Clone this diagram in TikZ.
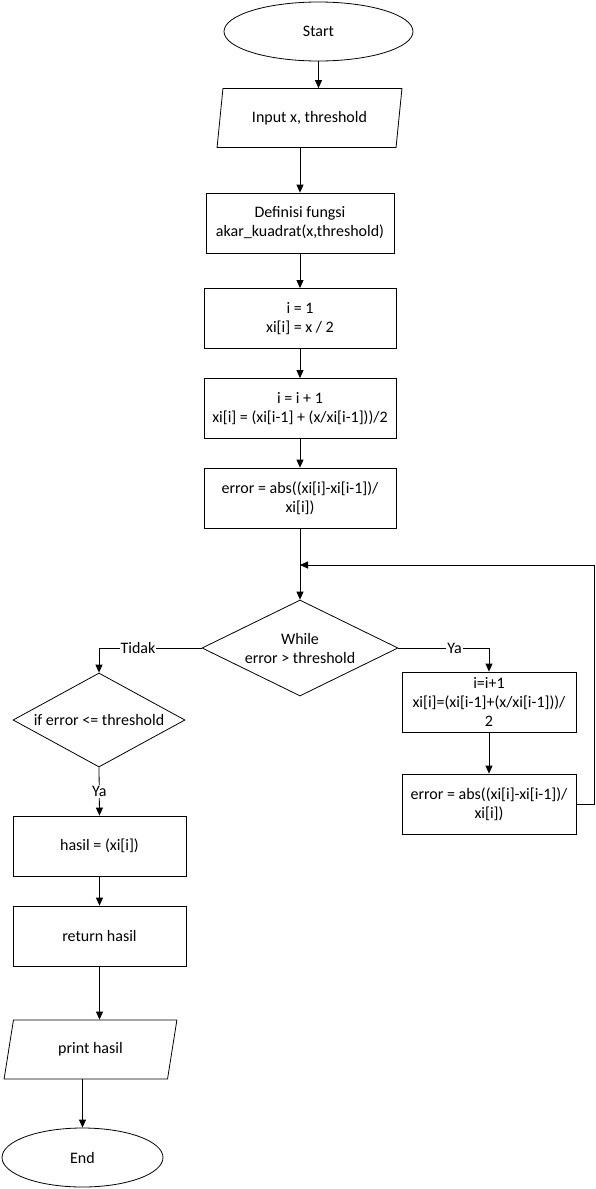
\documentclass[tikz,border=0pt]{standalone}
\usepackage{fontspec}
\setmainfont{Carlito}
\usetikzlibrary{shapes.geometric,arrows.meta}

\tikzset{
  base/.style={draw, line width=0.8pt, align=center, inner sep=0pt,
    font=\fontsize{16}{19}\selectfont},
  term/.style={base, ellipse, minimum width=189pt, minimum height=59pt},
  io/.style={base, trapezium, trapezium left angle=74, trapezium right angle=106,
    trapezium stretches=true, minimum height=59pt},
  proc/.style={base, rectangle, minimum height=60pt},
  cond/.style={base, diamond},
  arr/.style={line width=0.8pt, -{Triangle[length=8pt,width=7pt]}},
  lbl/.style={fill=white, inner sep=1pt, font=\fontsize{16}{19}\selectfont}
}

\begin{document}
\begin{tikzpicture}[x=1pt,y=-1pt]
  \useasboundingbox (0,0) rectangle (595,1189);

  %MAIN COLUMN
  \node[term] (start) at (318.5,31.5) {Start};
  \node[io, minimum width=185pt] (input) at (309.5,118) {Input x, threshold};
  \node[proc, minimum width=188pt] (def) at (300,223) {Definisi fungsi\\akar\_kuadrat(x,threshold)};
  \node[proc, minimum width=192pt] (init) at (300,318.5) {i = 1\\xi[i] = x / 2};
  \node[proc, minimum width=192pt] (iter) at (300,408.5) {i = i + 1\\xi[i] = (xi[i-1] + (x/xi[i-1]))/2};
  \node[proc, minimum width=192pt] (err) at (300,498) {error = abs((xi[i]-xi[i-1])/\\xi[i])};
  \node[cond, aspect=2.04, minimum width=196pt, minimum height=96pt] (while) at (300,648) {While\\error > threshold};
  \coordinate (join) at (300,565);

  %LOOP BODY
  \node[proc, minimum width=174pt] (upd) at (489,702) {i=i+1\\xi[i]=(xi[i-1]+(x/xi[i-1]))/\\2};
  \node[proc, minimum width=174pt] (err2) at (489,804) {error = abs((xi[i]-xi[i-1])/\\xi[i])};

  %EXIT BRANCH
  \node[cond, aspect=1.83, minimum width=172pt, minimum height=94pt] (cek) at (99,720) {if error <= threshold};
  \node[proc, minimum width=173pt] (hasil) at (99.5,846) {hasil = (xi[i])};
  \node[proc, minimum width=173pt] (ret) at (99.5,936) {return hasil};
  \node[io, minimum width=173pt] (print) at (90.5,1049.5) {print hasil};
  \node[term, minimum width=161pt] (end) at (82.5,1157.5) {End};

  %ARROWS
  \draw[arr] (start.south) -- (start.south |- input.north);
  \draw[arr] (def.north |- input.south) -- (def.north);
  \draw[arr] (def) -- (init);
  \draw[arr] (init) -- (iter);
  \draw[arr] (iter) -- (err);
  \draw[arr] (err.south) -- (while.north);
  \draw[arr] (while.east) -| (upd.north) node[pos=0.31, lbl] {Ya};
  \draw[arr] (upd) -- (err2);
  \draw[arr] (err2.east) -- ++(18,0) |- (join);
  \draw[arr] (while.west) -| (cek.north) node[pos=0.31, lbl] {Tidak};
  \draw[arr] (cek.south) -- (hasil.north) node[midway, lbl] {Ya};
  \draw[arr] (hasil) -- (ret);
  \draw[arr] (ret.south) -- (ret.south |- print.north);
  \draw[arr] (end.north |- print.south) -- (end.north);
\end{tikzpicture}
\end{document}
